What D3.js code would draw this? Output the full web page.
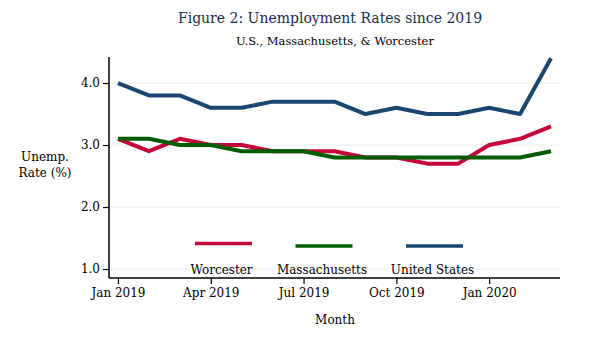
<!DOCTYPE html>
<html>
<head>
<meta charset="utf-8">
<title>Unemployment Rates since 2019</title>
<script src="https://cdn.jsdelivr.net/npm/d3@7"></script>
<style>
body { margin: 0; background: #fff; }
svg text { font-family: "DejaVu Serif", serif; }
</style>
</head>
<body>
<div id="chart"></div>
<script>
// months Jan 2019 .. Mar 2020
var months = ["Jan 2019","Feb 2019","Mar 2019","Apr 2019","May 2019","Jun 2019","Jul 2019",
  "Aug 2019","Sep 2019","Oct 2019","Nov 2019","Dec 2019","Jan 2020","Feb 2020","Mar 2020"];
var worcester = [3.1,2.9,3.1,3.0,3.0,2.9,2.9,2.9,2.8,2.8,2.7,2.7,3.0,3.1,3.3];
var massachusetts = [3.1,3.1,3.0,3.0,2.9,2.9,2.9,2.8,2.8,2.8,2.8,2.8,2.8,2.8,2.9];
var unitedStates = [4.0,3.8,3.8,3.6,3.6,3.7,3.7,3.7,3.5,3.6,3.5,3.5,3.6,3.5,4.4];
var yTicks = [1.0,2.0,3.0,4.0];
var xTickIdx = [0,3,6,9,12];
var xTickLabels = ["Jan 2019","Apr 2019","Jul 2019","Oct 2019","Jan 2020"];
var seriesNames = ["Worcester","Massachusetts","United States"];
var seriesColors = ["#c4063a","#005c00","#1a476f"];

var W = 603, H = 337;
var FONT = "'DejaVu Serif', serif";
var svg = d3.select("#chart").append("svg").attr("width", W).attr("height", H);

var x = d3.scaleLinear().domain([-0.29, 14.29]).range([109, 560]);
var y = d3.scaleLinear().domain([0.855, 4.42]).range([278, 57]);

// grid
svg.append("g").selectAll("line").data(yTicks).enter().append("line")
  .attr("x1", 110).attr("x2", 560)
  .attr("y1", function(d){ return y(d); }).attr("y2", function(d){ return y(d); })
  .attr("stroke", "#eaeeee").attr("stroke-width", 1);

// axes
var yAxis = d3.axisLeft(y).tickValues(yTicks).tickFormat(d3.format(".1f")).tickSize(6).tickPadding(3);
var gy = svg.append("g").attr("transform", "translate(109,0)").call(yAxis);
var xAxis = d3.axisBottom(x).tickValues(xTickIdx)
  .tickFormat(function(d, i){ return xTickLabels[i]; }).tickSize(6).tickPadding(4);
var gx = svg.append("g").attr("transform", "translate(0,278)").call(xAxis);
[gx, gy].forEach(function(g){
  g.attr("font-family", FONT).attr("font-size", 12);
  g.select(".domain").attr("stroke", "#000").attr("stroke-width", 1.5);
  g.selectAll(".tick line").attr("stroke", "#000").attr("stroke-width", 1.2);
  g.selectAll("text").attr("fill", "#000");
});
gy.select(".domain").attr("d", "M0,278V57");
gx.select(".domain").attr("d", "M109,0H560");

// lines
var line = d3.line().x(function(d, i){ return x(i); }).y(function(d){ return y(d); });
[worcester, massachusetts, unitedStates].forEach(function(s, k){
  svg.append("path").datum(s).attr("d", line)
    .attr("fill", "none").attr("stroke", seriesColors[k])
    .attr("stroke-width", 4).attr("stroke-linejoin", "round");
});

// legend inside plot
var legX = [223.5, 324, 434.5];
var legY = [243.5, 246, 246];
seriesNames.forEach(function(n, k){
  svg.append("line").attr("x1", legX[k] - 28.5).attr("x2", legX[k] + 28.5)
    .attr("y1", legY[k]).attr("y2", legY[k])
    .attr("stroke", seriesColors[k]).attr("stroke-width", 3.5);
  svg.append("text").attr("x", legX[k] - 2).attr("y", 274).attr("text-anchor", "middle")
    .attr("font-size", 12).text(n);
});

// titles
svg.append("text").attr("x", 330).attr("y", 23).attr("text-anchor", "middle")
  .attr("fill", "#1c2c4c").attr("font-size", 14).text("Figure 2: Unemployment Rates since 2019");
svg.append("text").attr("x", 335).attr("y", 45).attr("text-anchor", "middle")
  .attr("font-size", 11.5).text("U.S., Massachusetts, & Worcester");
svg.append("text").attr("x", 335).attr("y", 324).attr("text-anchor", "middle")
  .attr("font-size", 12).text("Month");
svg.append("text").attr("x", 45).attr("y", 161).attr("text-anchor", "middle")
  .attr("font-size", 12).text("Unemp.");
svg.append("text").attr("x", 45).attr("y", 177).attr("text-anchor", "middle")
  .attr("font-size", 12).text("Rate (%)");
</script>
</body>
</html>
